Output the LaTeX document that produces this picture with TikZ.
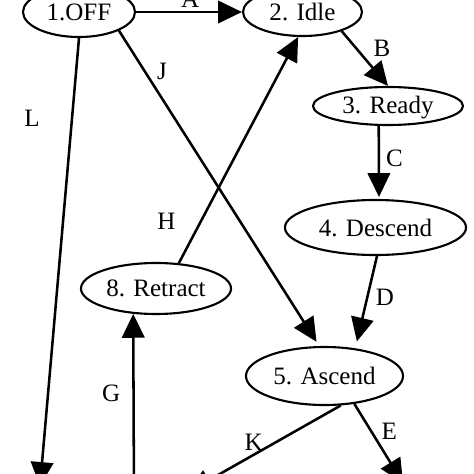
\documentclass[tikz,border=0pt]{standalone}
\usepackage{fontspec}
\setmainfont{Liberation Serif}
\usetikzlibrary{shapes.geometric, arrows.meta}

\begin{document}
\begin{tikzpicture}[x=0.025cm, y=-0.025cm,
  state/.style={ellipse, draw, line width=1.5pt, inner sep=0pt, font=\fontsize{17.8}{20}\selectfont},
  arrow/.style={-{Triangle[length=17pt, width=16pt]}, line width=1.8pt},
  lbl/.style={font=\fontsize{17.8}{20}\selectfont, inner sep=0pt}
]
  \useasboundingbox (0,0) rectangle (474,474);
  \clip (0,0) rectangle (474,474);

  \node[state, minimum width=2.8cm, minimum height=1.25cm] (off) at (79,12) {1.OFF};
  \node[state, minimum width=2.975cm, minimum height=1.2cm] (idle) at (302.5,12) {2. Idle};
  \node[state, minimum width=3.75cm, minimum height=0.95cm, text height=1em, text depth=0pt] (ready) at (388,106) {3. Ready};
  \node[state, minimum width=4.525cm, minimum height=1.375cm] (descend) at (375.5,227.5) {4. Descend};
  \node[state, minimum width=3.75cm, minimum height=1.275cm] (retract) at (156,288.5) {8. Retract};
  \node[state, minimum width=3.925cm, minimum height=1.45cm] (ascend) at (324.5,376) {5. Ascend};

  % free ends below the visible part
  \coordinate (lend) at (40,486);
  \coordinate (gstart) at (134,500);
  \coordinate (kend) at (188,492);
  \coordinate (eend) at (403,483);

  \draw[arrow] (off.east) -- (idle.west) node[lbl, pos=0.51, yshift=0.31cm] {A};
  \draw[arrow] (idle.-26) -- (ready.north) node[lbl, pos=0.31, xshift=0.65cm] {B};
  \draw[arrow, shorten >=0.05cm] (ready.245) -- (descend.83) node[lbl, pos=0.44, xshift=0.39cm] {C};
  \draw[arrow, shorten >=0.175cm] (descend.-87) -- (ascend.42) node[lbl, pos=0.45, xshift=0.44cm] {D};
  \draw[arrow, shorten >=0.125cm] (off.-25) -- (ascend.100) node[lbl, pos=0.129, xshift=0.43cm] {J};
  \draw[arrow] (retract.48) -- (idle.-100) node[lbl, pos=0.187, xshift=-0.87cm] {H};
  \draw[arrow] (ascend.-61) -- (kend) node[lbl, pos=0.57, yshift=0.32cm] {K};
  \draw[arrow] (ascend.-43) -- (eend) node[lbl, pos=0.345, xshift=0.45cm] {E};
  \draw[arrow] (off.south) -- (lend) node[lbl, pos=0.18, xshift=-1cm] {L};
  \draw[arrow] (gstart) -- (retract.-132) node[lbl, pos=0.575, xshift=-0.56cm] {G};
\end{tikzpicture}
\end{document}
